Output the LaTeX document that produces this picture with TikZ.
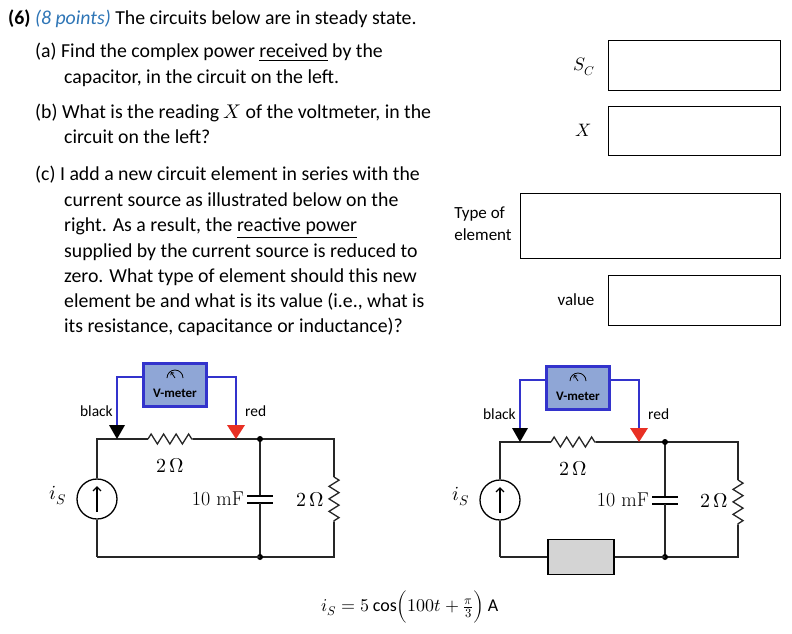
\documentclass[tikz,border=0pt]{standalone}
\usepackage{fontspec}
\setmainfont{Carlito}
\newfontfamily\lmr{Latin Modern Roman}
\usepackage{amsmath}
\usepackage{unicode-math}
\setmathfont{Latin Modern Math}
\usetikzlibrary{decorations.pathmorphing,arrows.meta,calc}
\definecolor{qblue}{RGB}{46,117,182}
\definecolor{mblue}{RGB}{51,51,204}
\definecolor{mfill}{RGB}{143,166,214}
\definecolor{tred}{RGB}{232,48,36}
\begin{document}
\begin{tikzpicture}[x=1pt,y=-1pt,
  txt/.style={anchor=base west,font=\fontsize{19.8}{22}\selectfont,inner sep=0},
  ansbox/.style={draw,line width=0.8pt},
  wire/.style={line width=1.3pt,black!85},
  res/.style={wire,decorate,decoration={zigzag,segment length=12.5,amplitude=5}},
  mwire/.style={line width=2.6pt,mblue},
  meter/.style={draw=mblue,line width=2.5pt,fill=mfill,minimum width=63,minimum height=43,inner sep=0},
  val/.style={font=\fontsize{20}{22}\selectfont,inner sep=1},
  lab/.style={font=\fontsize{15.5}{18}\selectfont,inner sep=1},
  dot/.style={circle,fill,inner sep=0,minimum size=6}]
\useasboundingbox (0,0) rectangle (792,633);
% text
\node[txt] (t0) at (8,24) {\textbf{(6)} \textcolor{qblue}{\textit{(8 points)}} The circuits below are in steady state.};
\node[txt] (a1) at (35,57) {(a) Find the complex power \underline{received} by the};
\node[txt] (a2) at (64,83) {capacitor, in the circuit on the left.};
\node[txt] (b1) at (35,118) {(b) What is the reading $X$ of the voltmeter, in the};
\node[txt] (b2) at (64,143) {circuit on the left?};
\node[txt] (c1) at (35,180) {(c) I add a new circuit element in series with the};
\node[txt] (c2) at (64,206) {current source as illustrated below on the};
\node[txt] (c3) at (64,231) {right. As a result, the \underline{reactive power}};
\node[txt] (c4) at (64,257) {supplied by the current source is reduced to};
\node[txt] (c5) at (64,282) {zero. What type of element should this new};
\node[txt] (c6) at (64,307) {element be and what is its value (i.e., what is};
\node[txt] (c7) at (64,332) {its resistance, capacitance or inductance)?};
% answer boxes
\draw[ansbox] (608,40) rectangle (780,90);
\draw[ansbox] (608,106) rectangle (780,155);
\draw[ansbox] (520,193) rectangle (780,258);
\draw[ansbox] (608,275) rectangle (780,325);
\node[font=\fontsize{18}{20}\selectfont] (ls) at (584,67) {$S_C$};
\node[font=\fontsize{18}{20}\selectfont] (lx) at (583,130) {$X$};
\node[font=\fontsize{17}{22}\selectfont,align=left] (lt) at (483,224) {Type of\\element};
\node[font=\fontsize{17}{20}\selectfont] (lv) at (576,300) {value};
\foreach \L/\J/\R/\src/\sy/\ty in {97/260/334/L/499/439, 500/665/738/R/500/442}{
\coordinate (tl\src) at (\L,\ty);
\coordinate (bl\src) at (\L,557);
\coordinate (tj\src) at (\J,\ty);
\coordinate (bj\src) at (\J,557);
\coordinate (tr\src) at (\R,\ty);
\coordinate (br\src) at (\R,557);
\node[draw,circle,line width=1.3pt,minimum size=40,inner sep=0] (s\src) at (\L,\sy) {};
\draw[line width=1.3pt,-{Straight Barb[length=4pt,width=8pt]}] ($(s\src)+(0,13)$) -- ($(s\src)+(0,-13)$);
\draw[wire] (s\src.north) -- (tl\src) -- ($(tl\src)+(51,0)$);
\draw[res] ($(tl\src)+(51,0)$) -- ($(tl\src)+(96,0)$);
\draw[wire] ($(tl\src)+(96,0)$) -- (tj\src) -- (tr\src) -- ($(tr\src)+(0,38)$);
\draw[res] ($(tr\src)+(0,38)$) -- ($(tr\src)+(0,83)$);
\draw[wire] ($(tr\src)+(0,83)$) -- (br\src) -- (bj\src);
\draw[wire] (s\src.south) -- (bl\src);
\draw[wire] (tj\src) -- ($(tj\src)+(0,\sy-\ty-3)$);
\draw[line width=1.6pt] ($(tj\src)+(-13,\sy-\ty-3)$) -- ($(tj\src)+(13,\sy-\ty-3)$);
\draw[line width=1.6pt] ($(tj\src)+(-13,\sy-\ty+4)$) -- ($(tj\src)+(13,\sy-\ty+4)$);
\draw[wire] ($(tj\src)+(0,\sy-\ty+4)$) -- (bj\src);
\node[dot] at (tj\src) {};
\node[dot] at (bj\src) {};
\node[val] (r1\src) at ($(tl\src)+(73,26)$) {$2\,\Omega$};
\node[val,anchor=east] (cv\src) at ($(tj\src)+(-15,\sy-\ty)$) {{\lmr 10 mF}};
\node[val,anchor=east] (r2\src) at ($(tr\src)+(-9,\sy-\ty)$) {$2\,\Omega$};
\node[val] (is\src) at ($(s\src)+(-39,-3)$) {$i_S$};
% meter
\node[meter] (m\src) at ($(tl\src)+(78,-54)$) {};
\node[font=\bfseries\fontsize{13}{14}\selectfont,inner sep=0] at ($(m\src)+(0,8)$) {V-meter};
\draw[line width=0.8pt] ($(m\src)+(-8,-7)$) arc[start angle=180,end angle=360,radius=8];
\draw[line width=0.8pt,-{Straight Barb[length=2pt]}] ($(m\src)+(0,-7)$) -- ($(m\src)+(-4,-13)$);
\coordinate (ka\src) at ($(tl\src)+(20,-14)$);
\coordinate (ra\src) at ($(tl\src)+(139,-14)$);
\draw[mwire] (m\src.west) ++(0,-8) -| (ka\src);
\draw[mwire] (m\src.east) ++(0,-8) -| (ra\src);
\fill[black] ($(ka\src)+(-8,0)$) -- ($(ka\src)+(8,0)$) -- ($(ka\src)+(0,14)$) -- cycle;
\fill[tred] ($(ra\src)+(-9,0)$) -- ($(ra\src)+(9,0)$) -- ($(ra\src)+(0,14)$) -- cycle;
\node[lab,anchor=east] (bk\src) at ($(ka\src)+(-3,-14)$) {black};
\node[lab,anchor=west] (rd\src) at ($(ra\src)+(8,-14)$) {red};
}
\draw[wire] (blL) -- (bjL);
\node[draw,line width=1.3pt,fill=black!17,minimum width=66,minimum height=35,inner sep=0] (newel) at (581,557) {};
\draw[wire] (blR) -- (newel.west);
\draw[wire] (newel.east) -- (bjR);
\node[font=\fontsize{18}{20}\selectfont] (form) at (410,607) {$i_S=5\cos\Bigl(100t+\frac{\pi}{3}\Bigr)$ A};
\end{tikzpicture}
\end{document}
